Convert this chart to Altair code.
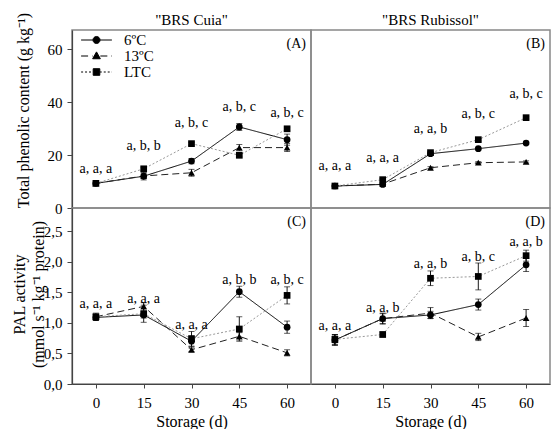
import math

import altair as alt
import pandas as pd

FONT = "Liberation Serif"

days = [0, 15, 30, 45, 60]
series = ["6ºC", "13ºC", "LTC"]

# Total phenolic content (g kg-1)
cuia_phenol = {
    "6ºC": [9.3, 12.0, 17.7, 30.6, 25.8],
    "13ºC": [9.3, 12.1, 13.3, 22.8, 22.8],
    "LTC": [9.3, 14.8, 24.3, 19.9, 29.9],
}
cuia_phenol_err = {
    "6ºC": [0.6, 1.4, 1.0, 1.3, 2.1],
    "13ºC": [0.5, 0.8, 1.3, 1.2, 1.5],
    "LTC": [0.4, 0.6, 0.5, 0.6, 0.6],
}
rubissol_phenol = {
    "6ºC": [8.3, 8.9, 20.5, 22.4, 24.5],
    "13ºC": [8.3, 9.0, 15.2, 17.1, 17.4],
    "LTC": [8.3, 10.7, 20.9, 25.8, 34.1],
}
rubissol_phenol_err = {
    "6ºC": [0.4, 0.4, 0.5, 0.4, 0.4],
    "13ºC": [0.3, 0.3, 0.4, 0.4, 0.4],
    "LTC": [0.3, 0.4, 0.5, 0.5, 0.5],
}

# PAL activity (mmol s-1 kg-1 protein)
cuia_pal = {
    "6ºC": [1.09, 1.13, 0.70, 1.51, 0.93],
    "13ºC": [1.10, 1.27, 0.56, 0.78, 0.51],
    "LTC": [1.10, 1.15, 0.74, 0.90, 1.45],
}
cuia_pal_err = {
    "6ºC": [0.05, 0.05, 0.09, 0.09, 0.10],
    "13ºC": [0.04, 0.06, 0.03, 0.06, 0.05],
    "LTC": [0.06, 0.14, 0.12, 0.20, 0.14],
}
rubissol_pal = {
    "6ºC": [0.72, 1.07, 1.13, 1.30, 1.95],
    "13ºC": [0.72, 1.07, 1.16, 0.77, 1.08],
    "LTC": [0.73, 0.81, 1.73, 1.76, 2.10],
}
rubissol_pal_err = {
    "6ºC": [0.09, 0.09, 0.06, 0.09, 0.11],
    "13ºC": [0.08, 0.08, 0.09, 0.06, 0.14],
    "LTC": [0.08, 0.04, 0.12, 0.22, 0.09],
}

# significance letters above each storage day
cuia_phenol_labels = ["a, a, a", "a, b, b", "a, b, c", "a, b, c", "a, b, c"]
cuia_phenol_label_y = [14.8, 23.4, 32.0, 38.0, 36.0]
rubissol_phenol_labels = ["a, a, a", "a, a, a", "a, a, b", "a, b, c", "a, b, c"]
rubissol_phenol_label_y = [15.8, 19.0, 30.0, 35.4, 43.0]
cuia_pal_labels = ["a, a, a", "a, a, a", "a, a, a", "a, b, b", "a, b, c"]
cuia_pal_label_y = [1.31, 1.39, 0.96, 1.71, 1.71]
rubissol_pal_labels = ["a, a, a", "a, a, b", "a, a, b", "a, b, c", "a, a, b"]
rubissol_pal_label_y = [0.95, 1.25, 1.96, 2.08, 2.33]

# line / marker style per series
styles = {
    "6ºC": dict(shape="circle", dash=[1, 0], color="black"),
    "13ºC": dict(shape="triangle-up", dash=[7, 4], color="#222222"),
    "LTC": dict(shape="square", dash=[2, 2], color="#999999"),
}

W = 239
X_DOMAIN = [-7.5, 67.5]


def segments(a, b, on, off):
    parts = []
    p = a
    while p < b:
        parts.append(f"M{p:.3f},0H{min(p + on, b):.3f}")
        p += on + off
    return "".join(parts)


def ring(r, n=16):
    pts = [(r * math.cos(2 * math.pi * i / n), r * math.sin(2 * math.pi * i / n))
           for i in range(n)]
    return "M" + "L".join(f"{px:.3f},{py:.3f}" for px, py in pts) + "Z"


# legend glyphs: line segment with the marker in the middle
L = 2.8
legend_paths = [
    f"M{-L},0H-0.64M0.64,0H{L}" + ring(0.64),
    segments(-L, -0.7, 1.27, 0.73) + segments(0.7, L, 1.27, 0.73)
    + "M0,-0.75L0.7,0.5L-0.7,0.5Z",
    segments(-L, -0.6, 0.36, 0.36) + segments(0.6, L, 0.36, 0.36)
    + "M-0.6,-0.6H0.6V0.6H-0.6Z",
]


def long_table(values, errs):
    rows = []
    for s in series:
        for d, v, e in zip(days, values[s], errs[s]):
            rows.append({"series": s, "day": d, "value": v, "lo": v - e, "hi": v + e})
    return pd.DataFrame(rows)


def panel(values, errs, labels, label_y, ydomain, height, yaxis, xaxis,
          title, letter, legend=False):
    data = long_table(values, errs)
    xs = alt.Scale(domain=X_DOMAIN, nice=False, zero=False)
    ys = alt.Scale(domain=ydomain, nice=False, zero=False)
    x = alt.X("day:Q", scale=xs, axis=xaxis)

    def y(field):
        return alt.Y(field, scale=ys, axis=yaxis)

    layers = []
    for s in series:
        st = styles[s]
        sub = alt.Chart(data).transform_filter(alt.datum.series == s)
        layers.append(
            sub.mark_line(color=st["color"], strokeDash=st["dash"], strokeWidth=1)
            .encode(x=x, y=y("value:Q"))
        )
    for s in series:
        sub = alt.Chart(data).transform_filter(alt.datum.series == s)
        layers.append(
            sub.mark_rule(color="black", strokeWidth=0.9)
            .encode(x=x, y=y("lo:Q"), y2="hi:Q")
        )
        layers.append(
            sub.mark_tick(color="black", orient="horizontal", size=6, thickness=0.9)
            .encode(x=x, y=y("lo:Q"))
        )
        layers.append(
            sub.mark_tick(color="black", orient="horizontal", size=6, thickness=0.9)
            .encode(x=x, y=y("hi:Q"))
        )
    for s in series:
        st = styles[s]
        sub = alt.Chart(data).transform_filter(alt.datum.series == s)
        layers.append(
            sub.mark_point(shape=st["shape"], filled=True, color="black",
                           size=45, opacity=1)
            .encode(x=x, y=y("value:Q"))
        )

    lab = pd.DataFrame({"day": days, "label_y": label_y, "label": labels})
    layers.append(
        alt.Chart(lab)
        .mark_text(font=FONT, fontSize=14, color="black", baseline="middle")
        .encode(x=x, y=y("label_y:Q"), text="label:N")
    )
    layers.append(
        alt.Chart(pd.DataFrame({"t": [letter]}))
        .mark_text(font=FONT, fontSize=14, color="black", align="right",
                   baseline="top")
        .encode(x=alt.value(W - 5), y=alt.value(7), text="t:N")
    )
    if title:
        layers.append(
            alt.Chart(pd.DataFrame({"t": [title]}))
            .mark_text(font=FONT, fontSize=15, color="black", align="center",
                       baseline="middle")
            .encode(x=alt.value(W / 2), y=alt.value(-10), text="t:N")
        )
    if legend:
        layers.append(
            alt.Chart(pd.DataFrame({"series": series}))
            .mark_point(filled=False, color="black", fill="black",
                        stroke="black", strokeWidth=1, opacity=1)
            .encode(
                shape=alt.Shape(
                    "series:N",
                    scale=alt.Scale(domain=series, range=legend_paths),
                    legend=alt.Legend(
                        title=None, orient="none", legendX=17, legendY=2.5,
                        symbolSize=121, symbolStrokeWidth=1,
                        labelFont=FONT, labelFontSize=15, labelColor="black",
                        rowPadding=-10, labelOffset=20, gridAlign="all",
                    ),
                )
            )
            .transform_filter("false")
        )
    return alt.layer(*layers).properties(width=W, height=height)


y_top = alt.Axis(
    values=[0, 20, 40, 60], title="Total phenolic content (g kg⁻¹)",
    tickSize=5, labelPadding=5, grid=False, titleX=-49, titleY=80,
    titleBaseline="middle", titleAngle=-90,
)
y_bottom = alt.Axis(
    values=[0, 0.5, 1.0, 1.5, 2.0, 2.5],
    labelExpr="replace(format(datum.value, '.1f'), '.', ',')",
    title=["PAL activity", "(mmol s⁻¹ kg⁻¹ protein)"],
    tickSize=5, labelPadding=5, grid=False, titleX=-53, titleY=86,
    titleBaseline="middle", titleAngle=-90, titleLineHeight=19,
)
x_bottom = alt.Axis(
    values=days, title="Storage (d)", tickSize=4, labelPadding=7,
    grid=False, titlePadding=3,
)

a = panel(cuia_phenol, cuia_phenol_err, cuia_phenol_labels, cuia_phenol_label_y,
          [0, 67.2], 178, y_top, None, '"BRS Cuia"', "(A)", legend=True)
b = panel(rubissol_phenol, rubissol_phenol_err, rubissol_phenol_labels,
          rubissol_phenol_label_y, [0, 67.2], 178, None, None,
          '"BRS Rubissol"', "(B)")
c = panel(cuia_pal, cuia_pal_err, cuia_pal_labels, cuia_pal_label_y,
          [0, 2.88], 176, y_bottom, x_bottom, None, "(C)")
d = panel(rubissol_pal, rubissol_pal_err, rubissol_pal_labels,
          rubissol_pal_label_y, [0, 2.88], 176, None, x_bottom, None, "(D)")

chart = (
    alt.concat(a, b, c, d, columns=2, spacing=0, bounds="flush")
    .properties(padding={"left": 2, "top": 3, "right": 0, "bottom": 0})
    .configure_view(stroke="#888888", strokeWidth=1.5)
    .configure_axis(
        labelFont=FONT, titleFont=FONT, labelFontSize=15, titleFontSize=16,
        labelColor="black", titleColor="black", titleFontWeight="normal",
        domainColor="#444444", tickColor="#444444", domainWidth=1.2,
    )
)

chart.save("out.html", embed_options={"renderer": "svg", "actions": False})
